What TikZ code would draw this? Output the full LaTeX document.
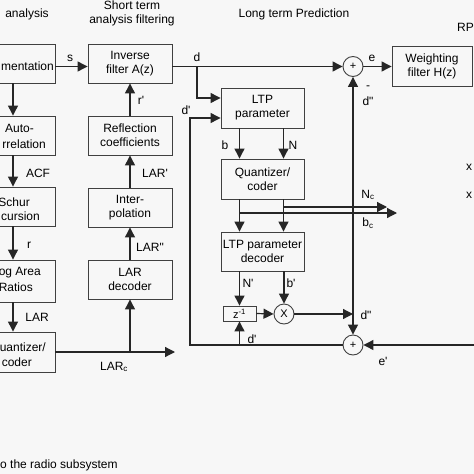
\documentclass[tikz,border=0pt]{standalone}
\usepackage{fontspec}
\setmainfont{Liberation Sans}[Ligatures=TeXOff]
\usetikzlibrary{arrows.meta,calc}
\begin{document}
\begin{tikzpicture}[x=1pt,y=-1pt,
  font=\fontsize{12}{14}\selectfont,
  box/.style={draw=black!75,line width=0.9pt,minimum width=84pt,minimum height=39pt,align=center,inner sep=1pt},
  lbox/.style={box,minimum width=75pt},
  sumc/.style={circle,draw=black!75,line width=0.9pt,minimum size=20pt,inner sep=0pt,font=\fontsize{11}{12}\selectfont},
  ar/.style={-{Triangle[length=10pt,width=10pt]},line width=1.2pt,draw=black!85},
  ln/.style={line width=1.2pt,draw=black!85},
  lab/.style={inner sep=0pt}
]
\fill[white!97!black] (0,0) rectangle (474,474);
\useasboundingbox (0,0) rectangle (474,474);
\clip (0,0) rectangle (474,474);

% helper coordinates
\coordinate (r1) at (0,66.5);
\coordinate (cL) at (13,0);
\coordinate (cb) at (239.5,0);
\coordinate (cn) at (283.5,0);

% titles
\node[lab] (h1) at (27,14) {analysis};
\node[lab] (h2) at (132,5) {Short term};
\node[lab] (h3) at (132,20) {analysis filtering};
\node[lab] (h4) at (294,14) {Long term Prediction};
\node[lab,anchor=west] (h5) at (457,27) {RP};
\node[lab,anchor=west] (h6) at (466,167) {x};
\node[lab,anchor=west] (h7) at (466,195) {x};
\node[lab,anchor=west] (h8) at (0,465) {o the radio subsystem};

% left column (cut at the left edge)
\node[lbox] (seg) at (17.5,63.5) {};
\node[lbox] (acb) at (17.5,135.5) {};
\node[lbox] (sch) at (17.5,206.5) {};
\node[lbox,minimum height=42pt] (lgr) at (17.5,281) {};
\node[lbox,minimum height=40pt] (qcl) at (17.5,352) {};
\node[lab,anchor=east] (f1) at (54,66) {mentation};
\node[lab,anchor=east] (f2) at (34,128) {Auto-};
\node[lab,anchor=east] (f3) at (46,144) {rrelation};
\node[lab,anchor=east] (f4) at (30,202) {Schur};
\node[lab,anchor=east] (f5) at (40,216) {cursion};
\node[lab,anchor=east] (f6) at (41,273) {og Area};
\node[lab,anchor=east] (f7) at (33,287) {Ratios};
\node[lab,anchor=east] (f8) at (46,347) {uantizer/};
\node[lab,anchor=east] (f9) at (32,362) {coder};

% middle column
\node[box] (inv) at (130,63.5) {Inverse\\filter A(z)};
\node[box] (refl) at (130,135.5) {Reflection\\coefficients};
\node[box] (intp) at (130,207.5) {Inter-\\polation};
\node[box] (ldec) at (130,279.5) {LAR\\decoder};

% LTP column
\node[box,minimum width=83pt,minimum height=40pt] (ltp) at (262.5,108) {LTP\\parameter};
\node[box,minimum width=83pt,minimum height=40pt] (qnt) at (262.5,179) {Quantizer/\\coder};
\node[box,minimum width=83pt] (dec) at (262.5,251.5) {LTP parameter\\decoder};
\node[box,minimum width=33pt,minimum height=15pt,font=\fontsize{11}{12}\selectfont] (zb) at (239.5,313.5) {z\textsuperscript{-1}};
\node[sumc] (mx) at (284,314) {X};

% sums and weighting filter
\node[sumc] (ptop) at (353,66.5) {+};
\node[sumc] (pbot) at (353,345) {+};
\node[box,minimum width=80pt,minimum height=40pt] (wf) at (432,66) {Weighting\\filter H(z)};

% free ends
\coordinate (lc) at (175,352);
\coordinate (dbr) at (197,98);
\coordinate (fb) at (190,118);
\coordinate (nc) at (387,207);
\coordinate (bc) at (397,213);
\coordinate (jn) at (353,314);
\coordinate (ein) at (476,345);

% left chain
\draw[ar] (seg.east |- r1) -- (inv.west |- r1);
\draw[ar] (seg.south -| cL) -- (acb.north -| cL);
\draw[ar] (acb.south -| cL) -- (sch.north -| cL);
\draw[ar] (sch.south -| cL) -- (lgr.north -| cL);
\draw[ar] (lgr.south -| cL) -- (qcl.north -| cL);
\draw[ar] (qcl.east |- lc) -- (lc);
\draw[ar] (ldec.south |- lc) -- (ldec.south);
\draw[ar] (ldec.north) -- (intp.south);
\draw[ar] (intp.north) -- (refl.south);
\draw[ar] (refl.north) -- (inv.south);

% d path
\draw[ar] (inv.east |- r1) -- (ptop.west);
\draw[ar] (dbr |- r1) |- (ltp.west |- dbr);
\draw[ar] (ptop.east) -- (wf.west |- ptop);

% LTP chain
\draw[ar] (ltp.south -| cb) -- (qnt.north -| cb);
\draw[ar] (ltp.south -| cn) -- (qnt.north -| cn);
\draw[ar] (qnt.south -| cb) -- (dec.north -| cb);
\draw[ar] (qnt.south -| cn) -- (dec.north -| cn);
\draw[ar] (nc -| cn) -- (nc);
\draw[ar] (bc -| cb) -- (bc);
\draw[ar] (dec.south -| zb.north) -- (zb.north);
\draw[ar] (dec.south -| mx.north) -- (mx.north);
\draw[ar] (zb.east) -- (mx.west);
\draw[ar] (mx.east) -- (jn);
\draw[ar] (jn) -- (ptop.south);
\draw[ar] (jn) -- (pbot.north);

% feedback
\draw[ar] (pbot.west) -| (fb) -- (ltp.west |- fb);
\draw[ar] (pbot.west -| zb.south) -- (zb.south);
\draw[ar] (ein) -- (pbot.east);

% labels
\node[lab] (l1) at (70,58) {s};
\node[lab] (l2) at (197,57) {d};
\node[lab] (l3) at (372,58) {e};
\node[lab] (l4) at (141,100) {r'};
\node[lab] (l5) at (186,110) {d'};
\node[lab] (l6) at (38,173) {ACF};
\node[lab] (l7) at (155,173) {LAR'};
\node[lab] (l8) at (225,145) {b};
\node[lab] (l9) at (293,145) {N};
\node[lab] (l10) at (29,245) {r};
\node[lab] (l11) at (150,247) {LAR"};
\node[lab] (l12) at (248,283) {N'};
\node[lab] (l13) at (291,283) {b'};
\node[lab] (l14) at (37,317) {LAR};
\node[lab] (l15) at (114,367) {LAR\textsubscript{c}};
\node[lab] (l16) at (368,88) {-};
\node[lab] (l17) at (368,101) {d"};
\node[lab] (l18) at (366,315) {d"};
\node[lab] (l19) at (252,339) {d'};
\node[lab] (l20) at (383,361) {e'};
\node[lab] (l21) at (368,195) {N\textsubscript{c}};
\node[lab] (l22) at (368,223) {b\textsubscript{c}};
\end{tikzpicture}
\end{document}
